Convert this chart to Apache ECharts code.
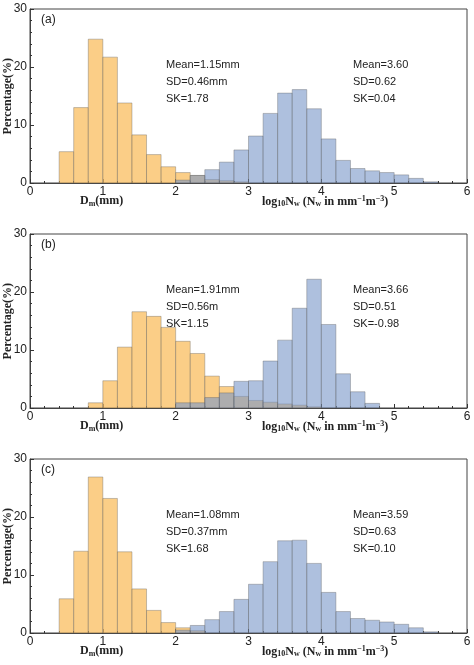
<!DOCTYPE html>
<html><head><meta charset="utf-8">
<script src="https://cdn.jsdelivr.net/npm/echarts@6/dist/echarts.min.js"></script>
<style>html,body{margin:0;padding:0;background:#fff}#c{width:474px;height:665px}</style>
</head><body><div id="c"></div>
<script>
const binWidth = 0.2;
const dmStartA = 0.4, dmA = [5.4,13.0,24.8,21.7,13.8,8.3,4.9,2.8,1.8,1.3,0.6,0.4,0.2];
const nwStartA = 2.0, nwA = [0.5,1.3,2.3,3.6,5.7,8.1,12.0,15.5,16.1,12.8,7.6,3.9,2.5,2.1,1.8,1.4,0.8,0.2];
const dmStartB = 0.8, dmB = [0.9,4.7,10.5,16.6,15.8,13.9,11.5,9.4,5.5,3.7,2.0,1.3,1.0,0.7,0.5,0.2];
const nwStartB = 2.0, nwB = [0.9,0.9,1.8,2.6,4.6,4.7,8.1,11.7,17.2,22.2,14.4,5.9,2.8,0.8];
const dmStartC = 0.4, dmC = [5.9,14.1,26.9,23.2,14.0,7.6,3.9,1.8,0.9,0.4];
const nwStartC = 2.0, nwC = [0.5,1.3,2.3,3.7,5.8,8.4,12.3,15.9,16.0,12.0,7.0,3.7,2.5,2.2,1.9,1.5,0.9,0.2];
const panelLabels = ['(a)','(b)','(c)'];
const dmStats = [['Mean=1.15mm','SD=0.46mm','SK=1.78'],['Mean=1.91mm','SD=0.56m','SK=1.15'],['Mean=1.08mm','SD=0.37mm','SK=1.68']];
const nwStats = [['Mean=3.60','SD=0.62','SK=0.04'],['Mean=3.66','SD=0.51','SK=-0.98'],['Mean=3.59','SD=0.63','SK=0.10']];
const xTicks = [0,1,2,3,4,5,6];
const yTicks = [0,10,20,30];

const panels = [
  {dmS:dmStartA, dm:dmA, nwS:nwStartA, nw:nwA},
  {dmS:dmStartB, dm:dmB, nwS:nwStartB, nw:nwB},
  {dmS:dmStartC, dm:dmC, nwS:nwStartC, nw:nwC}
];
const tops = [9, 234, 459], H = 174, L = 30, W = 437;

function toData(start, arr){ return arr.map((v,i)=>[+(start+i*binWidth).toFixed(2), +(start+(i+1)*binWidth).toFixed(2), v]); }
function renderBar(color){
  return function(params, api){
    const p0 = api.coord([api.value(0), api.value(2)]);
    const p1 = api.coord([api.value(1), 0]);
    return {type:'rect', shape:{x:p0[0], y:p0[1], width:p1[0]-p0[0], height:p1[1]-p0[1]},
      style:{fill:color, stroke:'rgba(90,90,90,0.6)', lineWidth:0.6}};
  };
}
const grid=[], xAxis=[], yAxis=[], series=[], graphic=[];
const serif = 'Times New Roman, Liberation Serif, serif';
panels.forEach((p,k)=>{
  grid.push({left:L, top:tops[k], width:W, height:H, show:true, borderColor:'#444', borderWidth:1, backgroundColor:'transparent'});
  xAxis.push({type:'value', gridIndex:k, min:0, max:6, interval:1,
    axisLine:{lineStyle:{color:'#444'}}, axisTick:{inside:true,length:4,lineStyle:{color:'#333'}},
    minorTick:{show:true, splitNumber:5, length:2, lineStyle:{color:'#333'}},
    axisLabel:{color:'#222', fontSize:12, fontFamily:'Arial, Liberation Sans', margin:3}, splitLine:{show:false}});
  yAxis.push({type:'value', gridIndex:k, min:0, max:30, interval:10,
    axisLine:{show:true,lineStyle:{color:'#444'}}, axisTick:{inside:true,length:4,lineStyle:{color:'#333'}},
    minorTick:{show:true, splitNumber:5, length:2, lineStyle:{color:'#333'}},
    axisLabel:{color:'#222', fontSize:12, fontFamily:'Arial, Liberation Sans', margin:3}, splitLine:{show:false}});
  series.push({type:'custom', xAxisIndex:k, yAxisIndex:k, renderItem:renderBar('rgba(250,190,95,0.75)'), encode:{x:[0,1],y:2}, data:toData(p.dmS,p.dm), z:2});
  series.push({type:'custom', xAxisIndex:k, yAxisIndex:k, renderItem:renderBar('rgba(120,150,200,0.6)'), encode:{x:[0,1],y:2}, data:toData(p.nwS,p.nw), z:3});
  const t = tops[k];
  graphic.push({type:'text', left:41, top:t+5, style:{text:panelLabels[k], fontSize:12, fontFamily:'Arial, Liberation Sans', fill:'#222'}});
  graphic.push({type:'text', left:166, top:t+47, style:{text:dmStats[k].join('\n'), fontSize:11, lineHeight:17, fontFamily:'Arial, Liberation Sans', fill:'#222'}});
  graphic.push({type:'text', left:353, top:t+47, style:{text:nwStats[k].join('\n'), fontSize:11, lineHeight:17, fontFamily:'Arial, Liberation Sans', fill:'#222'}});
  graphic.push({type:'text', left:80, top:t+H+12, style:{rich:{
      b:{fontFamily:serif, fontWeight:'bold', fontSize:12, fill:'#222'},
      s:{fontFamily:serif, fontWeight:'bold', fontSize:8, fill:'#222', padding:[5,0,0,0]}},
      text:'{b|D}{s|m}{b|(mm)}'}});
  graphic.push({type:'text', left:262, top:t+H+12, style:{rich:{
      b:{fontFamily:serif, fontWeight:'bold', fontSize:12, fill:'#222'},
      s:{fontFamily:serif, fontWeight:'bold', fontSize:8, fill:'#222', padding:[5,0,0,0]},
      u:{fontFamily:serif, fontWeight:'bold', fontSize:8, fill:'#222', padding:[0,0,5,0]}},
      text:'{b|log}{s|10}{b|N}{s|w}{b| (N}{s|w}{b| in mm}{u|−1}{b|m}{u|−3}{b|)}'}});
  graphic.push({type:'text', left:2, top:t+H/2-38, rotation:Math.PI/2, style:{text:'Percentage(%)', fontFamily:serif, fontWeight:'bold', fontSize:12, fill:'#222'}});
});
const chart = echarts.init(document.getElementById('c'));
chart.setOption({animation:false, grid, xAxis, yAxis, series, graphic});
</script></body></html>
